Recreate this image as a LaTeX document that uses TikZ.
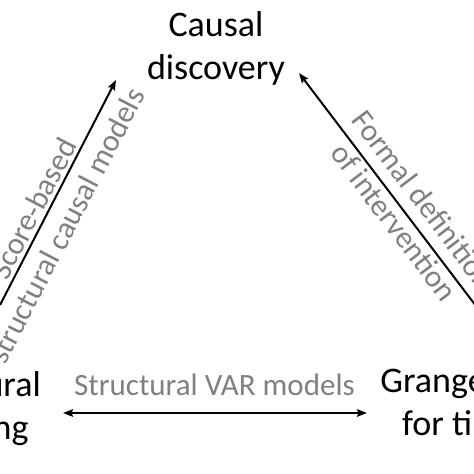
\documentclass[tikz,border=0pt]{standalone}
\usepackage{fontspec}
\setmainfont{Carlito}
\usetikzlibrary{arrows.meta}
\definecolor{lblgray}{HTML}{808080}
\begin{document}
\begin{tikzpicture}[x=1pt,y=-1pt,
  mainnode/.style={align=center, inner sep=0pt, font=\fontsize{36}{43}\selectfont, text=black},
  lblnode/.style={align=center, inner sep=0pt, font=\fontsize{31}{37}\selectfont, text=lblgray},
  conn/.style={line width=2pt, -{Stealth[length=10pt,width=7.5pt,inset=1.5pt]}},
  conn2/.style={line width=2pt, {Stealth[length=10pt,width=7.5pt,inset=1.5pt]}-{Stealth[length=10pt,width=7.5pt,inset=1.5pt]}}]
\useasboundingbox (0,0) rectangle (474,474);
\clip (0,0) rectangle (474,474);
\node[mainnode, anchor=base] (cd) at (216,79) {Causal\\discovery};
\node[mainnode, anchor=base] (sl) at (-31,439) {Structural\\learning};
\node[mainnode, anchor=base] (gc) at (507,435) {Granger causality\\for time series};
\coordinate (slout) at (0,305);
\coordinate (cdinl) at (116,80);
\coordinate (gcout) at (476,306);
\coordinate (cdinr) at (299,73);
\coordinate (slright) at (63,413);
\coordinate (gcleft) at (367,413);
\draw[conn] (slout) -- (cdinl);
\draw[conn] (gcout) -- (cdinr);
\draw[conn2] (slright) -- (gcleft);
\node[lblnode, rotate=62.6] (l1) at (49.5,217) {Score-based\\structural causal models};
\node[lblnode, rotate=-52.9] (l2) at (409,211) {Formal definition\\of intervention};
\node[lblnode, anchor=base] (l3) at (214.5,395) {Structural VAR models};
\end{tikzpicture}
\end{document}
